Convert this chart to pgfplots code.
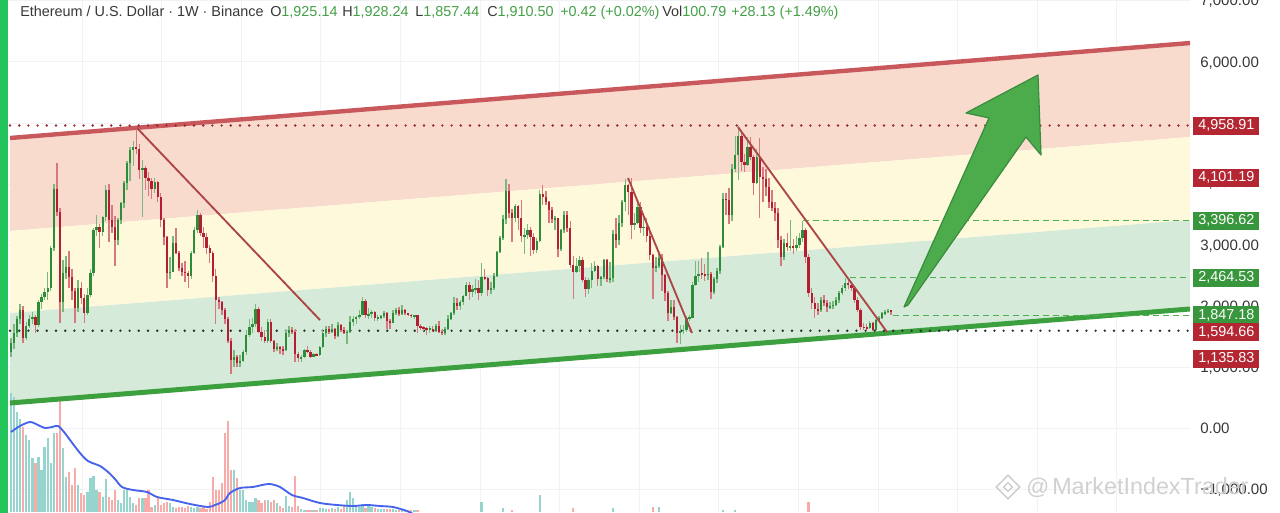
\documentclass[border=0pt]{standalone}
\usepackage{pgfplots}
\pgfplotsset{compat=1.18}
\usepackage{pgfplotstable}
\usepackage{fontspec}
\setmainfont{Liberation Sans}
\usetikzlibrary{shapes.geometric}

\definecolor{salmon}{RGB}{249,219,206}
\definecolor{cream}{RGB}{255,249,219}
\definecolor{mint}{RGB}{213,234,216}
\definecolor{topred}{RGB}{200,88,92}
\definecolor{botgreen}{RGB}{60,160,62}
\definecolor{trend}{RGB}{172,70,70}
\definecolor{bodyup}{RGB}{44,140,56}
\definecolor{bodydn}{RGB}{180,30,50}
\definecolor{wickup}{RGB}{120,185,125}
\definecolor{wickdn}{RGB}{215,120,128}
\definecolor{volup}{RGB}{150,212,206}
\definecolor{voldn}{RGB}{248,172,170}
\definecolor{maline}{RGB}{70,100,235}
\definecolor{lblred}{RGB}{180,38,50}
\definecolor{lblgreen}{RGB}{56,150,60}
\definecolor{dashgreen}{RGB}{76,175,80}
\definecolor{dotred}{RGB}{150,40,50}
\definecolor{dotdark}{RGB}{40,50,50}
\definecolor{arrowfill}{RGB}{76,172,76}
\definecolor{arrowdraw}{RGB}{56,140,60}
\definecolor{strip}{RGB}{35,196,92}
\definecolor{txtgrey}{RGB}{55,55,55}
\definecolor{tvgreen}{RGB}{67,160,71}
\definecolor{gridc}{RGB}{240,242,245}
\definecolor{wm}{RGB}{208,208,208}

\newcommand\hdrfont{\fontsize{10.8}{13}\selectfont}
\newcommand\scfont{\fontsize{11.3}{13}\selectfont}
\newcommand\lblfont{\fontsize{10.8}{13}\selectfont}

% weekly candles: i = week index, o h l c, v = volume bar height (px)
\pgfplotstableread{
i o h l c v
0 1240 1470 1170 1390 119
1 1390 1700 1300 1560 115
2 1560 1830 1500 1780 100
3 1780 2040 1700 1930 93
4 1930 2000 1400 1480 85
5 1480 1740 1450 1680 77
6 1680 1850 1640 1780 72
7 1780 1900 1700 1820 54
8 1820 1850 1560 1690 49
9 1690 2100 1660 2070 55
10 2070 2200 1950 2140 42
11 2140 2300 2100 2230 65
12 2230 2560 2100 2300 74
13 2300 2980 2250 2950 49
14 2950 4000 2900 3920 79
15 3920 4340 3480 3540 79
16 3540 3600 1720 2070 116
17 2070 2750 1900 2540 64
18 2540 2820 2450 2640 35
19 2640 2900 2300 2480 40
20 2480 2600 2100 2240 27
21 2240 2300 1720 1970 44
22 1970 2420 1900 2300 27
23 2300 2400 2030 2130 19
24 2130 2200 1720 1890 17
25 1890 2300 1850 2180 20
26 2180 2600 2150 2540 34
27 2540 3280 2500 3250 36
28 3250 3500 3150 3300 22
29 3300 3350 2950 3210 20
30 3210 3480 3150 3460 15
31 3460 3990 3400 3900 33
32 3900 4000 3050 3410 15
33 3410 3650 3200 3300 12
34 3300 3480 2650 3080 22
35 3080 3450 3000 3410 12
36 3410 3700 3350 3690 9
37 3690 4050 3600 4020 22
38 4020 4380 3900 4340 22
39 4340 4600 4050 4560 15
40 4560 4700 4300 4610 9
41 4610 4918 4500 4570 7
42 4570 4650 4080 4230 14
43 4230 4400 3460 4260 14
44 4260 4300 3900 4100 14
45 4100 4200 3800 4050 22
46 4050 4100 3750 3920 5
47 3920 4100 3850 4030 7
48 4030 4050 3700 3790 14
49 3790 3850 3300 3410 7
50 3410 3450 3000 3130 9
51 3130 3150 2300 2540 10
52 2540 2800 2450 2560 9
53 2560 3150 2550 3030 5
54 3030 3280 2850 2870 4
55 2870 2900 2580 2620 5
56 2620 2700 2500 2560 5
57 2560 2740 2400 2540 4
58 2540 2580 2300 2500 6
59 2500 2900 2450 2870 5
60 2870 3300 2850 3250 4
61 3250 3580 3200 3490 5
62 3490 3520 3150 3200 4
63 3200 3300 2950 3130 5
64 3130 3200 2850 2950 3
65 2950 3000 2700 2870 10
66 2870 2900 2400 2500 35
67 2500 2600 1700 2100 22
68 2100 2150 1950 2060 22
69 2060 2080 1850 1930 29
70 1930 1960 1700 1780 79
71 1780 1820 1400 1420 91
72 1420 1480 880 1120 42
73 1120 1280 1000 1160 42
74 1160 1200 1000 1070 34
75 1070 1200 1000 1100 22
76 1100 1280 1080 1240 22
77 1240 1600 1200 1530 12
78 1530 1780 1500 1650 10
79 1650 1800 1550 1700 10
80 1700 2030 1650 1950 14
81 1950 1990 1550 1580 12
82 1580 1650 1420 1500 9
83 1500 1600 1400 1420 12
84 1420 1790 1400 1730 12
85 1730 1780 1400 1430 10
86 1430 1450 1250 1300 12
87 1300 1400 1270 1330 9
88 1330 1350 1210 1290 6
89 1290 1340 1190 1280 4
90 1280 1600 1260 1550 16
91 1550 1680 1500 1600 6
92 1600 1650 1540 1580 5
93 1580 1600 1080 1220 36
94 1220 1250 1080 1140 6
95 1140 1200 1080 1170 3
96 1170 1300 1150 1280 2
97 1280 1350 1230 1250 2
98 1250 1280 1150 1170 2
99 1170 1230 1160 1220 2
100 1220 1230 1180 1190 2
101 1190 1340 1180 1320 4
102 1320 1600 1310 1550 4
103 1550 1680 1500 1630 3
104 1630 1670 1540 1570 3
105 1570 1710 1560 1630 4
106 1630 1640 1460 1510 3
107 1510 1740 1500 1690 5
108 1690 1700 1580 1600 3
109 1600 1650 1540 1560 6
110 1560 1600 1370 1580 12
111 1580 1840 1560 1740 20
112 1740 1840 1680 1780 14
113 1780 1830 1700 1820 6
114 1820 1940 1780 1860 5
115 1860 2140 1850 2090 8
116 2090 2120 1800 1850 4
117 1850 1960 1790 1870 6
118 1870 1930 1800 1900 5
119 1900 1910 1760 1800 4
120 1800 1850 1760 1810 3
121 1810 1860 1780 1830 3
122 1830 1920 1800 1890 3
123 1890 1900 1630 1750 3
124 1750 1780 1630 1720 3
125 1720 1930 1720 1890 3
126 1890 1960 1850 1940 2
127 1940 1980 1840 1870 2
128 1870 2010 1850 1940 2
129 1940 1950 1860 1890 2
130 1890 1890 1840 1860 2
131 1860 1870 1810 1830 2
132 1830 1860 1790 1850 2
133 1850 1850 1560 1670 2
134 1670 1700 1600 1650 0
135 1650 1680 1590 1630 0
136 1630 1660 1530 1620 0
137 1620 1680 1560 1630 0
138 1630 1680 1570 1590 0
139 1590 1700 1570 1670 0
140 1670 1750 1560 1580 0
141 1580 1600 1520 1560 0
142 1560 1660 1530 1630 0
143 1630 1850 1610 1780 0
144 1780 1900 1770 1890 0
145 1890 2140 1860 2050 0
146 2050 2130 1930 2000 0
147 2000 2100 1930 2060 0
148 2060 2180 2020 2170 0
149 2170 2400 2160 2350 0
150 2350 2400 2100 2230 0
151 2230 2350 2140 2280 0
152 2280 2450 2200 2290 0
153 2290 2420 2100 2220 0
154 2220 2700 2170 2470 10
155 2470 2600 2420 2460 0
156 2460 2480 2170 2260 0
157 2260 2400 2200 2290 0
158 2290 2540 2270 2500 0
159 2500 2900 2480 2880 0
160 2880 3140 2870 3110 0
161 3110 3500 3080 3420 4
162 3420 4090 3350 3880 0
163 3880 4000 3450 3520 0
164 3520 3590 3050 3450 2
165 3450 3680 3380 3640 0
166 3640 3660 3250 3450 0
167 3450 3730 3050 3150 0
168 3150 3280 2850 3160 0
169 3160 3350 3100 3250 0
170 3250 3290 2820 3130 0
171 3130 3200 2860 2910 0
172 2910 3110 2870 3070 0
173 3070 3900 3050 3830 17
174 3830 3980 3650 3780 0
175 3780 3880 3660 3700 0
176 3700 3720 3360 3570 0
177 3570 3620 3360 3420 0
178 3420 3480 3250 3440 0
179 3440 3450 2810 2930 0
180 2930 3270 2900 3240 0
181 3240 3560 3200 3500 0
182 3500 3560 3220 3280 0
183 3280 3400 2620 2680 0
184 2680 2820 2110 2560 4
185 2560 2780 2540 2650 0
186 2650 2820 2550 2760 0
187 2760 2800 2400 2430 0
188 2430 2470 2150 2280 0
189 2280 2460 2200 2420 0
190 2420 2700 2300 2580 0
191 2580 2730 2560 2650 0
192 2650 2670 2320 2440 0
193 2440 2500 2320 2470 0
194 2470 2770 2440 2750 0
195 2750 2770 2400 2440 0
196 2440 2720 2380 2460 0
197 2460 3250 2400 3180 4
198 3180 3450 2950 3080 0
199 3080 3500 3000 3360 0
200 3360 3740 3300 3700 0
201 3700 4090 3550 3990 0
202 3990 4000 3500 3870 0
203 3870 4100 3100 3320 0
204 3320 3530 3250 3360 0
205 3360 3740 3340 3630 0
206 3630 3700 3200 3280 0
207 3280 3460 3150 3300 0
208 3300 3450 3050 3150 0
209 3150 3300 2750 2840 0
210 2840 2850 2120 2630 5
211 2630 2800 2550 2660 0
212 2660 2850 2620 2780 5
213 2780 2850 2250 2510 0
214 2510 2530 2080 2220 0
215 2220 2250 1760 1890 0
216 1890 2100 1870 1980 0
217 1980 2100 1770 1820 0
218 1820 1830 1400 1560 0
219 1560 1690 1385 1590 0
220 1590 1690 1540 1610 0
221 1610 1830 1570 1800 0
222 1800 1860 1750 1810 0
223 1810 2400 1800 2350 0
224 2350 2730 2320 2490 0
225 2490 2740 2400 2530 0
226 2530 2790 2450 2520 0
227 2520 2690 2410 2510 0
228 2510 2880 2430 2530 0
229 2530 2550 2110 2230 0
230 2230 2480 2200 2440 0
231 2440 2620 2380 2570 0
232 2570 3000 2520 2970 0
233 2970 3860 2950 3760 2
234 3760 3860 3500 3740 0
235 3740 3940 3350 3490 0
236 3490 4330 3400 4250 0
237 4250 4790 4200 4470 2
238 4470 4958.91 4060 4780 0
239 4780 4830 4210 4360 0
240 4360 4490 4200 4310 0
241 4310 4770 4290 4610 0
242 4610 4770 4400 4450 0
243 4450 4480 3820 4020 0
244 4020 4580 4000 4440 0
245 4440 4760 3450 4120 0
246 4120 4280 3700 4080 0
247 4080 4250 3800 3950 0
248 3950 4100 3600 3700 0
249 3700 3900 3550 3600 0
250 3600 3700 3400 3520 0
251 3520 3600 2950 3080 0
252 3080 3150 2650 2810 0
253 2810 3100 2750 3030 0
254 3030 3200 2900 2960 0
255 2960 3410 2900 2990 0
256 2990 3100 2850 2950 0
257 2950 3150 2900 3000 0
258 3000 3200 2950 3120 0
259 3120 3396.62 3050 3250 0
260 3250 3280 2700 2800 0
261 2800 2850 2150 2220 10
262 2220 2300 1950 2050 0
263 2050 2150 1800 1950 0
264 1950 2050 1850 1930 0
265 1930 2150 1900 2100 0
266 2100 2180 2000 2050 0
267 2050 2100 1900 1980 0
268 1980 2060 1950 2000 0
269 2000 2080 1950 2020 0
270 2020 2150 2000 2100 0
271 2100 2250 2050 2220 0
272 2220 2350 2180 2300 0
273 2300 2464.53 2250 2380 0
274 2380 2420 2280 2350 0
275 2350 2380 2250 2300 0
276 2300 2320 2050 2100 0
277 2100 2150 1900 1940 0
278 1940 1960 1600 1660 0
279 1660 1720 1600 1650 0
280 1650 1700 1610 1640 0
281 1640 1750 1630 1720 0
282 1720 1730 1594.66 1610 0
283 1610 1790 1600 1770 0
284 1770 1830 1750 1800 0
285 1800 1900 1790 1880 0
286 1880 1930 1850 1900 0
287 1900 1950 1880 1925.14 0
288 1925.14 1928.24 1857.44 1910.50 0
}\candles

% volume moving average: x (px), height above pane bottom (px)
\pgfplotstableread{
x h
11 80
20 86
30 90
38 87
45 84
52 85
58 86
64 80
70 72
80 59
88 51
100 46
108 40
115 33
122 25
133 22
147 20
157 15
173 12
190 8
208 5
215 7
220 9
225 12
230 19
240 24
253 25
262 27
270 28
280 25
292 17
303 14
320 9
337 7
353 6
367 7
380 6
393 5
407 1
413 -2
}\vma

\begin{document}
\begin{tikzpicture}
\useasboundingbox (0,0) rectangle (960pt,384pt);
\clip (0,0) rectangle (960pt,384pt);
\begin{axis}[
  at={(0,0)}, anchor=south west, scale only axis,
  width=892.5pt, height=384pt,
  xmin=0, xmax=1190, ymin=-1377, ymax=7016.4,
  axis line style={draw=none}, major tick length=0pt,
  xticklabels={}, yticklabels={},
  xtick={82,161.6,241.2,320.8,400.4,480,559.6,639.2,718.8,798.4,878,957.6,1037.2,1116.8},
  ytick={-1000,0,1000,2000,3000,4000,5000,6000,7000},
  grid=major, major grid style={draw=gridc, line width=0.75pt},
  clip mode=individual,
]
% left accent strip
\addplot[fill=strip, draw=none] coordinates {(0,-1400) (7.5,-1400) (7.5,7100) (0,7100)} -- cycle;
% channel bands
\addplot[fill=salmon, draw=none] coordinates {(10,4754) (1190,6311) (1190,4770) (10,3230)} -- cycle;
\addplot[fill=cream, draw=none] coordinates {(10,3230) (1190,4770) (1190,3410) (10,1885)} -- cycle;
\addplot[fill=mint, draw=none] coordinates {(10,1885) (1190,3410) (1190,1951) (10,410)} -- cycle;
\addplot[topred, line width=3.3pt] coordinates {(10,4754) (1190,6311)};

% volume
\addplot[draw=none, restrict expr to domain={\thisrow{c}-\thisrow{o}}{0:100000},
  error bars/.cd, y dir=both, y explicit, error mark=none,
  error bar style={draw=volup, line width=1.7pt}]
  table[x expr=11+3.056*\thisrow{i}, y expr=-1377+\thisrow{v}/0.122, y error expr=\thisrow{v}/0.122] {\candles};
\addplot[draw=none, restrict expr to domain={\thisrow{c}-\thisrow{o}}{-100000:-0.001},
  error bars/.cd, y dir=both, y explicit, error mark=none,
  error bar style={draw=voldn, line width=1.7pt}]
  table[x expr=11+3.056*\thisrow{i}, y expr=-1377+\thisrow{v}/0.122, y error expr=\thisrow{v}/0.122] {\candles};
\addplot[maline, line width=1.4pt, smooth] table[x=x, y expr=-1377+\thisrow{h}/0.061] {\vma};

\addplot[botgreen, line width=3.75pt] coordinates {(10,410) (1190,1951)};

% horizontal levels
\addplot[dotred, line width=2pt, line cap=round, dash pattern=on 0pt off 6.9pt] coordinates {(10,4958.91) (1190,4958.91)};
\addplot[dotdark, line width=2pt, line cap=round, dash pattern=on 0pt off 6.9pt] coordinates {(10,1594.66) (1190,1594.66)};
\addplot[dashgreen, line width=0.8pt, dash pattern=on 4.5pt off 3pt] coordinates {(803,3396.62) (1190,3396.62)};
\addplot[dashgreen, line width=0.8pt, dash pattern=on 4.5pt off 3pt] coordinates {(850,2464.53) (1190,2464.53)};
\addplot[dashgreen, line width=0.8pt, dash pattern=on 4.5pt off 3pt] coordinates {(893,1847.18) (1190,1847.18)};

% wicks
\addplot[draw=none, restrict expr to domain={\thisrow{c}-\thisrow{o}}{0:100000},
  error bars/.cd, y dir=both, y explicit, error mark=none,
  error bar style={draw=wickup, line width=1.1pt}]
  table[x expr=11+3.056*\thisrow{i}, y expr={0.5*(\thisrow{h}+\thisrow{l})}, y error expr={0.5*(\thisrow{h}-\thisrow{l})}] {\candles};
\addplot[draw=none, restrict expr to domain={\thisrow{c}-\thisrow{o}}{-100000:-0.001},
  error bars/.cd, y dir=both, y explicit, error mark=none,
  error bar style={draw=wickdn, line width=1.1pt}]
  table[x expr=11+3.056*\thisrow{i}, y expr={0.5*(\thisrow{h}+\thisrow{l})}, y error expr={0.5*(\thisrow{h}-\thisrow{l})}] {\candles};
% bodies
\addplot[draw=none, restrict expr to domain={\thisrow{c}-\thisrow{o}}{0:100000},
  error bars/.cd, y dir=both, y explicit, error mark=none,
  error bar style={draw=bodyup, line width=1.7pt}]
  table[x expr=11+3.056*\thisrow{i}, y expr={0.5*(\thisrow{o}+\thisrow{c})}, y error expr={max(0.5*abs(\thisrow{c}-\thisrow{o}),9)}] {\candles};
\addplot[draw=none, restrict expr to domain={\thisrow{c}-\thisrow{o}}{-100000:-0.001},
  error bars/.cd, y dir=both, y explicit, error mark=none,
  error bar style={draw=bodydn, line width=1.7pt}]
  table[x expr=11+3.056*\thisrow{i}, y expr={0.5*(\thisrow{o}+\thisrow{c})}, y error expr={max(0.5*abs(\thisrow{c}-\thisrow{o}),9)}] {\candles};

% trend lines
\addplot[trend, line width=1.4pt] coordinates {(137,4918) (320,1770)};
\addplot[trend, line width=1.4pt] coordinates {(628,4098) (692,1557)};
\addplot[trend, line width=1.4pt] coordinates {(738,4934) (887,1574)};

% big arrow
\addplot[fill=arrowfill, draw=arrowdraw, line width=0.9pt, line join=round] coordinates {(904,1984) (989,5082) (966,5164) (1038,5787) (1041,4475) (1026,4770) (908,2016)} -- cycle;

% header
\node[anchor=base west, text=txtgrey, inner sep=0pt, font=\hdrfont] at (axis cs:20,6737.7) {Ethereum / U.S. Dollar · 1W · Binance};
\node[anchor=base west, text=txtgrey, inner sep=0pt, font=\hdrfont] at (axis cs:270,6737.7) {O\textcolor{tvgreen}{1,925.14}};
\node[anchor=base west, text=txtgrey, inner sep=0pt, font=\hdrfont] at (axis cs:342,6737.7) {H\textcolor{tvgreen}{1,928.24}};
\node[anchor=base west, text=txtgrey, inner sep=0pt, font=\hdrfont] at (axis cs:415,6737.7) {L\textcolor{tvgreen}{1,857.44}};
\node[anchor=base west, text=txtgrey, inner sep=0pt, font=\hdrfont] at (axis cs:487,6737.7) {C\textcolor{tvgreen}{1,910.50}};
\node[anchor=base west, text=tvgreen, inner sep=0pt, font=\hdrfont] at (axis cs:560,6737.7) {+0.42 (+0.02\%)};
\node[anchor=base west, text=txtgrey, inner sep=0pt, font=\hdrfont] at (axis cs:662,6737.7) {Vol\textcolor{tvgreen}{100.79}};
\node[anchor=base west, text=tvgreen, inner sep=0pt, font=\hdrfont] at (axis cs:731,6737.7) {+28.13 (+1.49\%)};

% price scale
\node[anchor=base west, text=txtgrey, inner sep=0pt, font=\scfont] at (axis cs:1200,6918) {7,000.00};
\node[anchor=base west, text=txtgrey, inner sep=0pt, font=\scfont] at (axis cs:1200,5918) {6,000.00};
\node[anchor=base west, text=txtgrey, inner sep=0pt, font=\scfont] at (axis cs:1200,4918) {5,000.00};
\node[anchor=base west, text=txtgrey, inner sep=0pt, font=\scfont] at (axis cs:1200,3950) {4,000.00};
\node[anchor=base west, text=txtgrey, inner sep=0pt, font=\scfont] at (axis cs:1200,2918) {3,000.00};
\node[anchor=base west, text=txtgrey, inner sep=0pt, font=\scfont] at (axis cs:1200,1918) {2,000.00};
\node[anchor=base west, text=txtgrey, inner sep=0pt, font=\scfont] at (axis cs:1200,918) {1,000.00};
\node[anchor=base west, text=txtgrey, inner sep=0pt, font=\scfont] at (axis cs:1200,-82) {0.00};
\node[anchor=base west, text=txtgrey, inner sep=0pt, font=\scfont] at (axis cs:1200,-1082) {−1,000.00};

\node[fill=lblred, text=white, minimum width=49.5pt, minimum height=13.5pt, inner sep=0pt, anchor=west, font=\lblfont] at (axis cs:1193,4958.91) {4,958.91};
\node[fill=lblred, text=white, minimum width=49.5pt, minimum height=13.5pt, inner sep=0pt, anchor=west, font=\lblfont] at (axis cs:1193,4101.19) {4,101.19};
\node[fill=lblgreen, text=white, minimum width=49.5pt, minimum height=13.5pt, inner sep=0pt, anchor=west, font=\lblfont] at (axis cs:1193,3396.62) {3,396.62};
\node[fill=lblgreen, text=white, minimum width=49.5pt, minimum height=13.5pt, inner sep=0pt, anchor=west, font=\lblfont] at (axis cs:1193,2464.53) {2,464.53};
\node[fill=lblgreen, text=white, minimum width=49.5pt, minimum height=13.5pt, inner sep=0pt, anchor=west, font=\lblfont] at (axis cs:1193,1847.18) {1,847.18};
\node[fill=lblred, text=white, minimum width=49.5pt, minimum height=13.5pt, inner sep=0pt, anchor=west, font=\lblfont] at (axis cs:1193,1573.8) {1,594.66};
\node[fill=lblred, text=white, minimum width=49.5pt, minimum height=13.5pt, inner sep=0pt, anchor=west, font=\lblfont] at (axis cs:1193,1135.83) {1,135.83};

% watermark
\node[diamond, draw=wm, line width=1.2pt, minimum width=18pt, minimum height=18pt, inner sep=0pt] at (axis cs:1008,-967) {};
\node[diamond, draw=wm, line width=1pt, minimum width=7pt, minimum height=7pt, inner sep=0pt] at (axis cs:1008,-967) {};
\node[anchor=base west, text=wm, inner sep=0pt, font=\fontsize{17}{20}\selectfont] at (axis cs:1026,-1098) {@};
\node[anchor=base west, text=wm, inner sep=0pt, font=\fontsize{17.5}{21}\selectfont] at (axis cs:1052,-1098) {MarketIndexTrader};
\end{axis}
\end{tikzpicture}
\end{document}
